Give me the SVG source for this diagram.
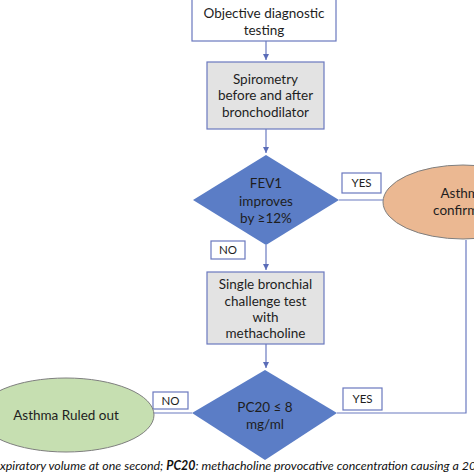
<svg xmlns="http://www.w3.org/2000/svg" width="474" height="474" viewBox="0 0 474 474">
<defs>
<style>
.t{font-family:Lato,"Liberation Sans",sans-serif;font-size:13.5px;fill:#1e1e1e;text-anchor:middle}
.lbl{font-family:Lato,"Liberation Sans",sans-serif;font-size:11.5px;fill:#1e1e1e;text-anchor:middle}
.box{fill:#e3e3e3;stroke:#6a78bf;stroke-width:1.2}
.wbox{fill:#ffffff;stroke:#6a78bf;stroke-width:1.2}
.dia{fill:#5b7dc6;stroke:none}
.ln{fill:none;stroke:#6a7ac0;stroke-width:1.2}
.cap{font-family:Lato,"Liberation Sans",sans-serif;font-size:12.4px;font-style:italic;fill:#111}
</style>
<marker id="ah" markerWidth="8" markerHeight="8" refX="6" refY="3" orient="auto" markerUnits="userSpaceOnUse">
<path d="M0,0 L6,3 L0,6 Z" fill="#5a6cb8"/>
</marker>
</defs>
<rect width="474" height="474" fill="#ffffff"/>
<g id="connectors">
<line class="ln" x1="266" y1="41" x2="266" y2="60" marker-end="url(#ah)"/>
<line class="ln" x1="266" y1="129" x2="266" y2="153" marker-end="url(#ah)"/>
<line class="ln" x1="339" y1="200" x2="383" y2="200"/>
<line class="ln" x1="266" y1="245" x2="266" y2="270" marker-end="url(#ah)"/>
<line class="ln" x1="266" y1="344" x2="266" y2="368" marker-end="url(#ah)"/>
<polyline class="ln" points="466,240 466,413 337,413"/>
<line class="ln" x1="192" y1="413" x2="152" y2="413"/>
</g>
<g id="objective">
<rect class="wbox" x="192" y="-2" width="144" height="43"/>
<text class="t" x="264" y="18">Objective diagnostic</text>
<text class="t" x="264" y="35">testing</text>
</g>
<g id="spirometry">
<rect class="box" x="207" y="62" width="117" height="67"/>
<text class="t" x="265.5" y="84">Spirometry</text>
<text class="t" x="265.5" y="100">before and after</text>
<text class="t" x="265.5" y="117">bronchodilator</text>
</g>
<g id="fev1">
<polygon class="dia" points="266,155 339,200 266,245 193,200"/>
<text class="t" x="266" y="188">FEV1</text>
<text class="t" x="266" y="206">improves</text>
<text class="t" x="266" y="223">by ≥12%</text>
</g>
<g id="yes1">
<rect class="wbox" x="342" y="173" width="39" height="20"/>
<text class="lbl" x="361.5" y="187">YES</text>
</g>
<g id="confirmed">
<ellipse cx="463" cy="202" rx="80" ry="37" fill="#ebb892" stroke="#7f7f7f" stroke-width="1"/>
<text class="t" x="463" y="198">Asthma</text>
<text class="t" x="463" y="215">confirmed</text>
</g>
<g id="no1">
<rect class="wbox" x="211" y="241" width="34" height="18"/>
<text class="lbl" x="228" y="254">NO</text>
</g>
<g id="challenge">
<rect class="box" x="207" y="272" width="117" height="72"/>
<text class="t" x="265.5" y="289">Single bronchial</text>
<text class="t" x="265.5" y="306">challenge test</text>
<text class="t" x="265.5" y="322">with</text>
<text class="t" x="265.5" y="338">methacholine</text>
</g>
<g id="pc20">
<polygon class="dia" points="265,370 337,413 265,460 192,413"/>
<text class="t" x="265" y="412">PC20 ≤ 8</text>
<text class="t" x="265" y="429">mg/ml</text>
</g>
<g id="yes2">
<rect class="wbox" x="343" y="388" width="39" height="22"/>
<text class="lbl" x="362.5" y="403">YES</text>
</g>
<g id="no2">
<rect class="wbox" x="153" y="392" width="35" height="17"/>
<text class="lbl" x="170.5" y="404.5">NO</text>
</g>
<g id="ruledout">
<ellipse cx="66" cy="415" rx="88" ry="37" fill="#c6dfb1" stroke="#7f7f7f" stroke-width="1"/>
<text class="t" x="66" y="420">Asthma Ruled out</text>
</g>
<text class="cap" x="0" y="470">xpiratory volume at one second; <tspan font-weight="bold">PC20</tspan>: methacholine provocative concentration causing a 20%</text>
</svg>
